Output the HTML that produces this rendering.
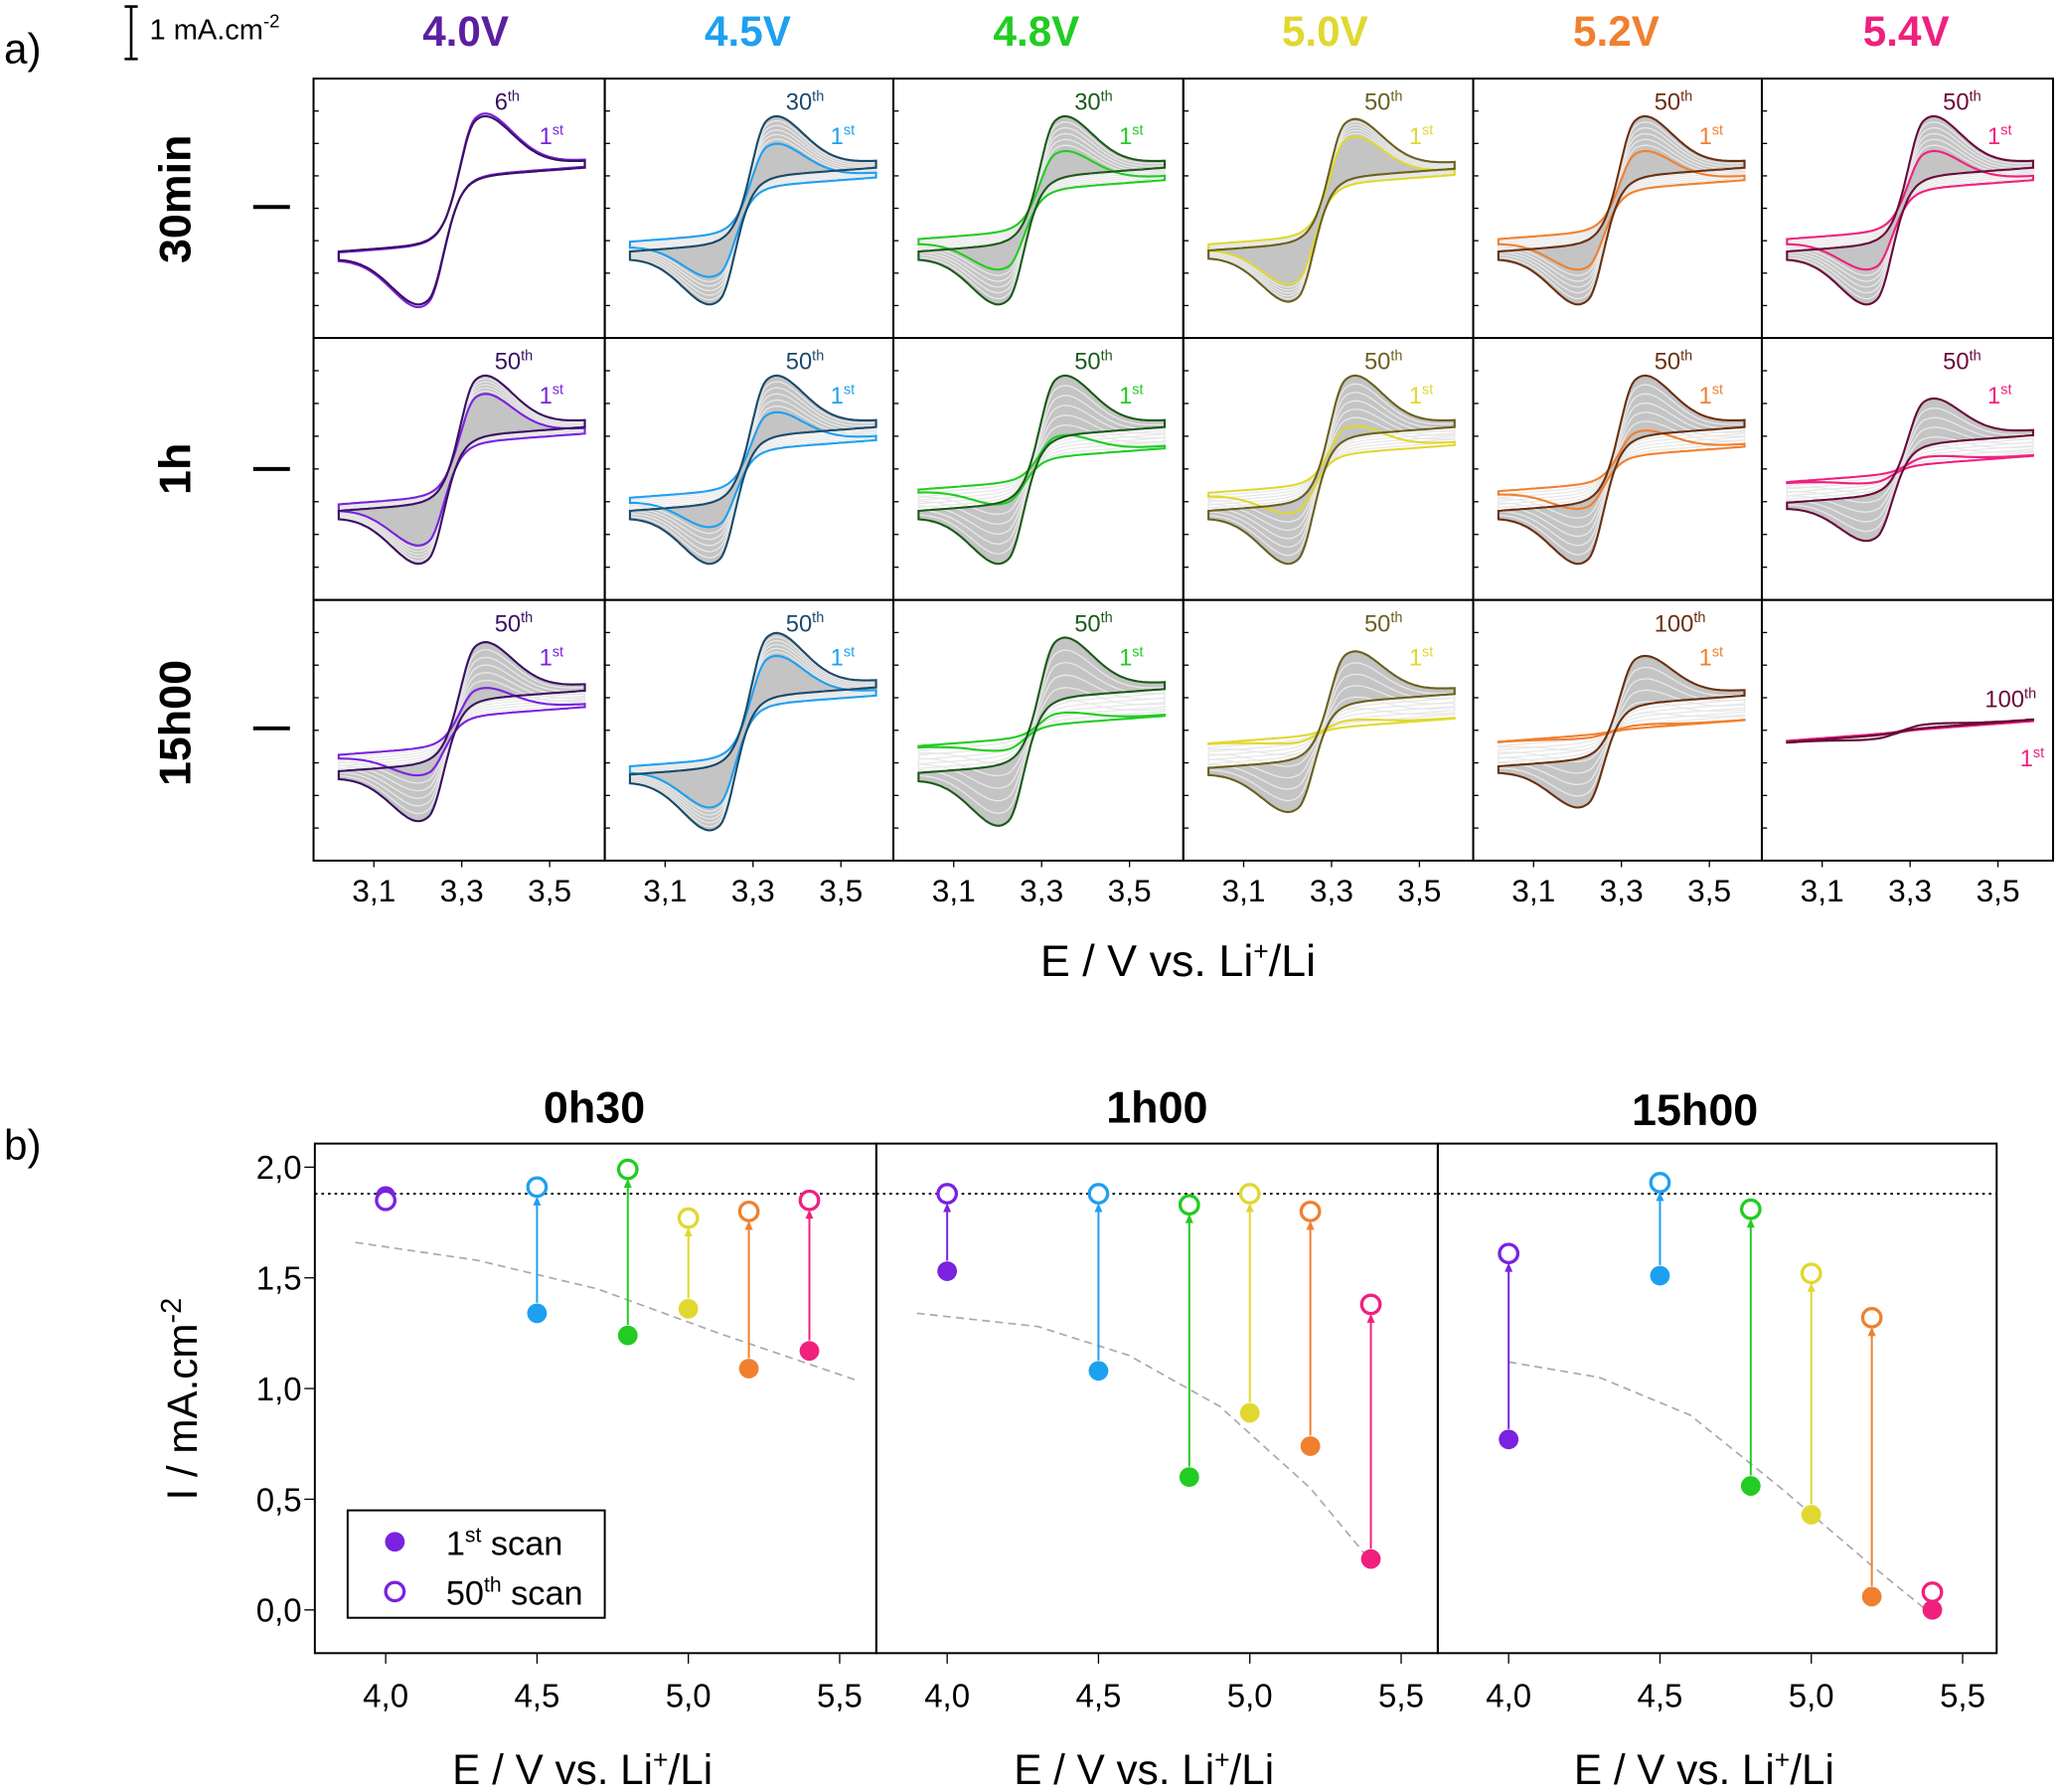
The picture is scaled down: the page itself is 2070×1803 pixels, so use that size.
<!DOCTYPE html>
<html><head><meta charset="utf-8"><style>
html,body{margin:0;padding:0;background:#fff}
svg{display:block}
text{font-family:"Liberation Sans",sans-serif}
</style></head><body>
<svg id="s" width="2070" height="1803" viewBox="0 0 1568 1368" preserveAspectRatio="none" xmlns="http://www.w3.org/2000/svg">
<rect width="1568" height="1368" fill="#fff"/>
<text x="3" y="48" font-size="32">a)</text>
<text x="3" y="885" font-size="32">b)</text>
<path d="M100 5 V45 M95 5 H105 M95 45 H105" stroke="#000" stroke-width="2"/>
<text x="114" y="30" font-size="22">1 mA.cm<tspan dy="-9" font-size="14">-2</tspan></text>
<g font-size="32" font-weight="bold" text-anchor="middle">
<text x="355" y="35" fill="#5b1fa0">4.0V</text>
<text x="570" y="35" fill="#1ea0f0">4.5V</text>
<text x="790" y="35" fill="#22cc22">4.8V</text>
<text x="1010" y="35" fill="#e0d830">5.0V</text>
<text x="1232" y="35" fill="#f08030">5.2V</text>
<text x="1453" y="35" fill="#f0207f">5.4V</text>
</g>
<g font-size="34" font-weight="bold" text-anchor="middle">
<text transform="translate(145,152) rotate(-90)">30min</text>
<text transform="translate(145,358) rotate(-90)">1h</text>
<text transform="translate(145,552) rotate(-90)">15h00</text>
</g>
<g stroke="#000" stroke-width="3">
<path d="M193 158H221M193 358H221M193 556H221"/>
</g>
<g id="cv"></g>
<text x="898" y="745" font-size="34" text-anchor="middle">E / V vs. Li<tspan dy="-12" font-size="20">+</tspan><tspan dy="12">/Li</tspan></text>
<g font-size="34" font-weight="bold" text-anchor="middle">
<text x="453" y="857">0h30</text><text x="882" y="857">1h00</text><text x="1292" y="859">15h00</text>
</g>
<text transform="translate(150,1068) rotate(-90)" font-size="32" text-anchor="middle">I / mA.cm<tspan dy="-12" font-size="22">-2</tspan></text>
<g id="b"></g>
</svg>
<script>
const NS="http://www.w3.org/2000/svg";
function el(p,t,a,txt){const e=document.createElementNS(NS,t);for(const k in a)e.setAttribute(k,a[k]);if(txt!==undefined)e.textContent=txt;p.appendChild(e);return e;}
const cv=document.getElementById('cv');
const colX=[239,461,681,902,1123,1343,1565];
const rowY=[60,258,458,657];
const cols=['#7a22e0','#1ea0f0','#22cc22','#e0d830','#f08030','#f0207f'];
const dark=['#3a1060','#1a4a6a','#1a5a1a','#6a6020','#6a3010','#6a0a3a'];
const amps=[[[1.03,1],[0.7,1],[0.62,1],[0.78,0.97],[0.62,1],[0.62,1]],
[[0.8,1],[0.6,1],[0.35,1],[0.45,1],[0.4,1],[0.12,0.75]],
[[0.45,0.95],[0.8,1.05],[0.18,1],[0.1,0.85],[0.05,0.8],[0.02,0.06]]];
const lab2=[['6th','30th','30th','50th','50th','50th'],['50th','50th','50th','50th','50th','50th'],['50th','50th','50th','50th','100th','100th']];
const sig=x=>1/(1+Math.exp(-x));
function f(E){const w=E<3.33?0.045:0.11;return -25+55*sig((E-3.29)/0.025)+46*Math.exp(-Math.pow((E-3.33)/w,2));}
function loop(A){const pts=[];
 for(let E=3.02;E<=3.58001;E+=0.005)pts.push([E,A*f(E)+(E-3.3)*25]);
 for(let E=3.58;E>=3.01999;E-=0.005)pts.push([E,-A*f(6.555-E)+(E-3.3)*25]);return pts;}
for(let r=0;r<3;r++)for(let c=0;c<6;c++){
 const x0=colX[c],y0=rowY[r],w=colX[c+1]-x0,h=rowY[r+1]-y0;
 const mx=E=>x0+46+(E-3.1)/0.2*67, my=v=>y0+100-v;
 const path=pts=>'M'+pts.map(p=>mx(p[0]).toFixed(1)+' '+my(p[1]).toFixed(1)).join('L')+'Z';
 const [a1,a2]=amps[r][c];
 if(a2-a1>0.1) el(cv,'path',{d:path(loop(a2)),fill:'#c4c4c4',stroke:'none'});
 for(let k=1;k<6;k++){el(cv,'path',{d:path(loop(a1+(a2-a1)*k/6)),fill:'none',stroke:'#e8e8e8','stroke-width':1});}
 el(cv,'path',{d:path(loop(a1)),fill:'none',stroke:cols[c],'stroke-width':1.6});
 el(cv,'path',{d:path(loop(a2)),fill:'none',stroke:dark[c],'stroke-width':1.6});
 el(cv,'rect',{x:x0,y:y0,width:w,height:h,fill:'none',stroke:'#000','stroke-width':1.5});
 for(let k=1;k<8;k++)el(cv,'line',{x1:x0,x2:x0+4,y1:y0+k*h/8,y2:y0+k*h/8,stroke:'#000'});
 const L=lab2[r][c];
 const big=(r==2&&c==5);
 const t2=el(cv,'text',{x:big?mx(3.5)-10:x0+138,y:big?y0+82:y0+24,'font-size':18,fill:dark[c]});t2.textContent=L.replace(/\D+$/,'');el(t2,'tspan',{dy:-7,'font-size':11},L.replace(/^\d+/,''));
 const t1=el(cv,'text',{x:big?mx(3.55):x0+172,y:big?y0+127:y0+50,'font-size':18,fill:cols[c]});t1.textContent='1';el(t1,'tspan',{dy:-7,'font-size':11},'st');
 if(r==2){[3.1,3.3,3.5].forEach(E=>{el(cv,'text',{x:mx(E),y:688,'font-size':24,'text-anchor':'middle'},E.toFixed(1).replace('.',','));el(cv,'line',{x1:mx(E),x2:mx(E),y1:657,y2:662,stroke:'#000'});});}
}
// part b
const b=document.getElementById('b');
const px=[240,668,1096,1522],Y=v=>1229-v*169;
const data=[[[1.87,1.85],[1.34,1.91],[1.24,1.99],[1.36,1.77],[1.09,1.80],[1.17,1.85]],
[[1.53,1.88],[1.08,1.88],[0.60,1.83],[0.89,1.88],[0.74,1.80],[0.23,1.38]],
[[0.77,1.61],[1.51,1.93],[0.56,1.81],[0.43,1.52],[0.06,1.32],[0.00,0.08]]];
const vs=[4.0,4.5,4.8,5.0,5.2,5.4];
const dash=[[[3.9,1.66],[4.3,1.58],[4.7,1.45],[5.1,1.25],[5.55,1.04]],
[[3.9,1.34],[4.3,1.28],[4.6,1.15],[4.9,0.92],[5.2,0.55],[5.4,0.22]],
[[4.0,1.12],[4.3,1.05],[4.6,0.88],[4.9,0.55],[5.2,0.2],[5.38,0.0]]];
for(let p=0;p<3;p++){
 const x0=px[p],X=v=>x0+54+(v-4)*230.7;
 el(b,'rect',{x:x0,y:873,width:px[p+1]-x0,height:389,fill:'none',stroke:'#000','stroke-width':1.5});
 el(b,'line',{x1:x0,x2:px[p+1],y1:Y(1.88),y2:Y(1.88),stroke:'#000','stroke-width':1.5,'stroke-dasharray':'2,3'});
 el(b,'path',{d:'M'+dash[p].map(q=>X(q[0])+' '+Y(q[1])).join('L'),fill:'none',stroke:'#aaa','stroke-width':1.3,'stroke-dasharray':'6,4'});
 [4,4.5,5,5.5].forEach(v=>{el(b,'text',{x:X(v),y:1303,'font-size':25,'text-anchor':'middle'},v.toFixed(1).replace('.',','));el(b,'line',{x1:X(v),x2:X(v),y1:1262,y2:1270,stroke:'#000'});});
 el(b,'text',{x:(x0+px[p+1])/2-10,y:1362,'font-size':32,'text-anchor':'middle'}).innerHTML='E / V vs. Li<tspan dy="-12" font-size="20">+</tspan><tspan dy="12">/Li</tspan>';
 for(let i=0;i<6;i++){const [f,o]=data[p][i],x=X(vs[i]),c=cols[i];
  if(o-f>0.12){el(b,'line',{x1:x,x2:x,y1:Y(f)-8,y2:Y(o)+12,stroke:c,'stroke-width':1.5});el(b,'path',{d:`M${x-3} ${Y(o)+14}L${x} ${Y(o)+7}L${x+3} ${Y(o)+14}Z`,fill:c});}
  el(b,'circle',{cx:x,cy:Y(f),r:7.5,fill:c});
  el(b,'circle',{cx:x,cy:Y(o),r:7,fill:'#fff',stroke:c,'stroke-width':2.5});}
}
[0,0.5,1,1.5,2].forEach(v=>{el(b,'text',{x:230,y:Y(v)+9,'font-size':25,'text-anchor':'end'},v.toFixed(1).replace('.',','));el(b,'line',{x1:240,x2:232,y1:Y(v),y2:Y(v),stroke:'#000'});});
el(b,'rect',{x:265,y:1153,width:196,height:82,fill:'#fff',stroke:'#000','stroke-width':1.5});
el(b,'circle',{cx:301,cy:1177,r:7.5,fill:'#7a22e0'});
el(b,'circle',{cx:301,cy:1215,r:7,fill:'#fff',stroke:'#7a22e0','stroke-width':2.5});
el(b,'text',{x:340,y:1187,'font-size':26}).innerHTML='1<tspan dy="-10" font-size="16">st</tspan><tspan dy="10"> scan</tspan>';
el(b,'text',{x:340,y:1225,'font-size':26}).innerHTML='50<tspan dy="-10" font-size="16">th</tspan><tspan dy="10"> scan</tspan>';
</script>
</body></html>
